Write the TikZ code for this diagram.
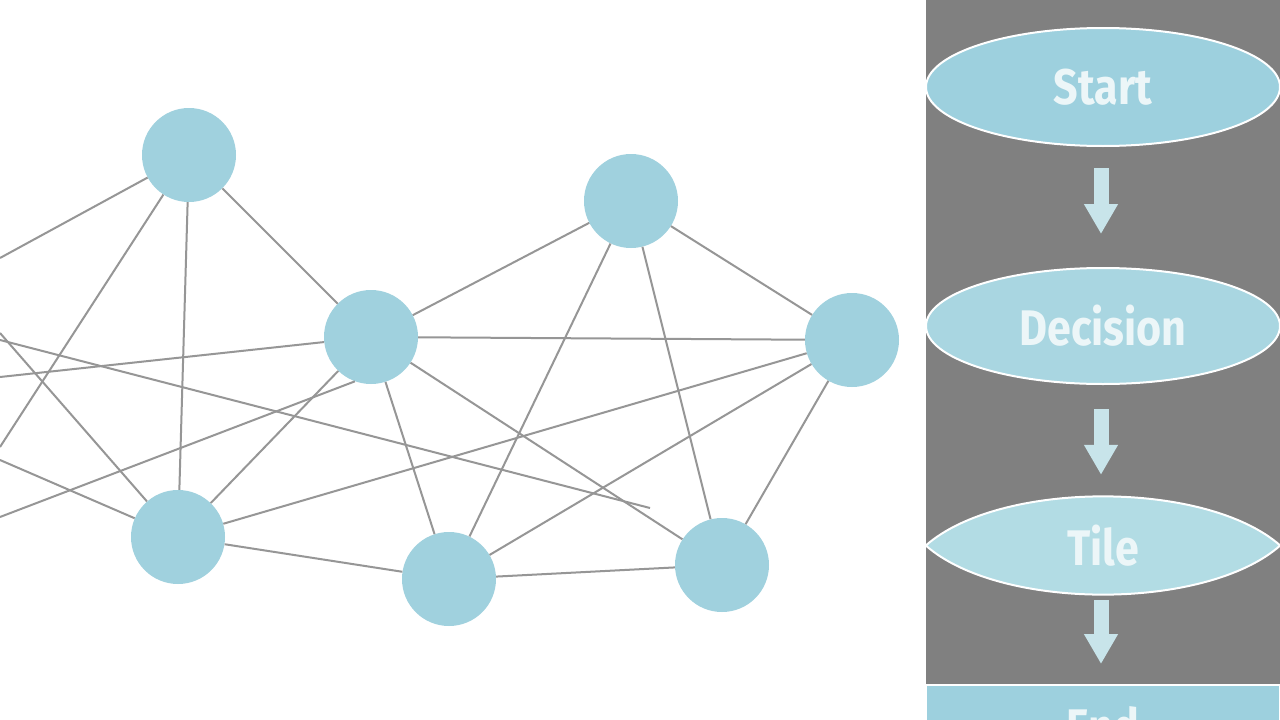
\documentclass[tikz,border=0pt]{standalone}
\usepackage{fontspec}
\newfontfamily\flowfont[FakeStretch=0.86]{Fira Sans}
\usetikzlibrary{shapes.geometric,arrows.meta,calc}
\definecolor{nodeblue}{RGB}{160,209,222}
\definecolor{edgegray}{RGB}{150,150,150}
\definecolor{panelgray}{RGB}{128,128,128}
\definecolor{startfill}{RGB}{157,208,222}
\definecolor{decfill}{RGB}{169,214,225}
\definecolor{tilefill}{RGB}{178,220,228}
\definecolor{arrowfill}{RGB}{200,228,234}
\definecolor{textwhite}{RGB}{236,246,248}
\tikzset{
  netnode/.style={circle, fill=nodeblue, minimum size=94pt, inner sep=0pt},
  netedge/.style={draw=edgegray, line width=2pt},
  flowtext/.style={text=textwhite, font=\flowfont\bfseries\fontsize{50}{60}\selectfont},
  flowell/.style={ellipse, draw=white, line width=2pt, minimum width=354pt, inner sep=0pt, flowtext},
  blockarrow/.style={draw=arrowfill, line width=15pt, -{Triangle[width=32pt,length=30pt]}, color=arrowfill}
}
\begin{document}
\begin{tikzpicture}[x=1pt,y=-1pt]
\useasboundingbox (0,0) rectangle (1280,720);
\fill[white] (0,0) rectangle (1280,720);
\fill[panelgray] (926,0) rectangle (1280,720);

% network nodes
\node[netnode] (A) at (189,155) {};
\node[netnode] (B) at (371,337) {};
\node[netnode] (C) at (631,201) {};
\node[netnode] (D) at (852,340) {};
\node[netnode] (E) at (178,537) {};
\node[netnode] (F) at (449,579) {};
\node[netnode] (G) at (722,565) {};

% free ends at the left border
\coordinate (l1) at (0,258);
\coordinate (l2) at (0,447);
\coordinate (l3) at (0,333);
\coordinate (l4) at (0,377);
\coordinate (l5) at (0,340);
\coordinate (l6) at (0,460);
\coordinate (l7) at (0,517);
\coordinate (x5) at (650,508);

% edges
\draw[netedge] (l1) -- (A);
\draw[netedge] (l2) -- (A);
\draw[netedge] (l3) -- (E);
\draw[netedge] (l4) -- (B);
\draw[netedge] (l5) -- (x5);
\draw[netedge] (l6) -- (E);
\draw[netedge] (l7) -- (B.250);
\draw[netedge] (A) -- (B);
\draw[netedge] (A) -- (E);
\draw[netedge] (B) -- (C);
\draw[netedge] (B) -- (D);
\draw[netedge] (B) -- (E);
\draw[netedge] (B) -- (F);
\draw[netedge] (B) -- (G);
\draw[netedge] (C) -- (D);
\draw[netedge] (C) -- (F);
\draw[netedge] (C) -- (G);
\draw[netedge] (D) -- (E);
\draw[netedge] (D) -- (F);
\draw[netedge] (D) -- (G);
\draw[netedge] (E) -- (F);
\draw[netedge] (F) -- (G);

% flowchart
\node[flowell, fill=startfill, minimum height=118pt] (start) at (1103,87) {Start};
\node[flowell, fill=decfill, minimum height=116pt] (dec) at (1103,326) {Decision};
\node[minimum width=354pt, minimum height=99pt, inner sep=0pt] (tile) at (1103,545.5) {};
\filldraw[fill=tilefill, draw=white, line width=2pt]
  (tile.west) .. controls (1000,480) and (1206,480) .. (tile.east)
  .. controls (1206,611) and (1000,611) .. (tile.west) -- cycle;
\node[flowtext] at (tile.center) {Tile};
\node[rectangle, draw=white, line width=2pt, fill=startfill, minimum width=354pt, minimum height=81pt, inner sep=0pt, flowtext] (end) at (1103,725.5) {End};

\draw[blockarrow] ($(start.south)+(-2,21)$) -- ($(dec.north)+(-2,-33)$);
\draw[blockarrow] ($(dec.south)+(-2,24)$) -- ($(tile.north)+(-2,-21)$);
\draw[blockarrow] ($(tile.south)+(-2,5)$) -- ($(end.north)+(-2,-20)$);
\end{tikzpicture}
\end{document}
